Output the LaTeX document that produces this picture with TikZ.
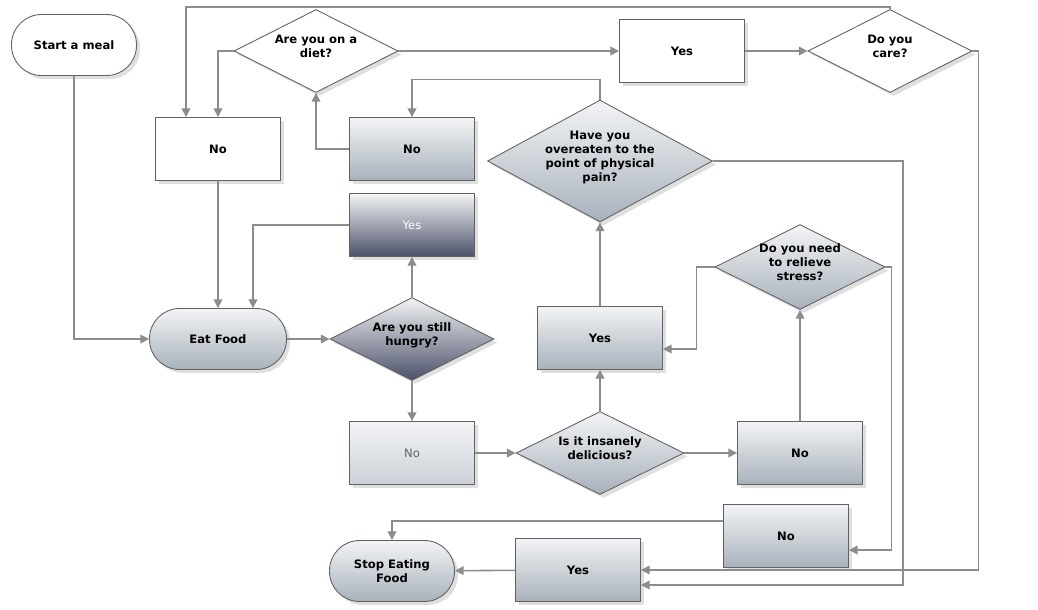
\documentclass[tikz,border=0pt]{standalone}
\usepackage{fontspec}
\setmainfont{DejaVu Sans}
\usetikzlibrary{shapes.geometric,arrows.meta,shadows}
\definecolor{ln}{HTML}{8C8C8C}
\definecolor{gtop}{HTML}{F3F4F6}
\definecolor{gbot}{HTML}{A8B1BB}
\definecolor{dbot}{HTML}{4B5169}
\newcommand{\dtxt}[1]{\smash{\makebox[0pt]{\begin{tabular}{@{}c@{}}#1\end{tabular}}}}
\begin{document}
\begin{tikzpicture}[x=0.02cm,y=-0.02cm,
  base/.style={draw=ln!70!black,line width=0.5pt,font=\fontsize{6.6}{8}\selectfont\bfseries,align=center,inner sep=1pt,
     drop shadow={shadow xshift=2pt,shadow yshift=-2pt,fill=black!25}},
  box/.style={base,rectangle,minimum width=2.5cm,minimum height=1.26cm},
  term/.style={base,rectangle,rounded corners=0.6cm,minimum width=2.5cm,minimum height=1.22cm},
  dia/.style={base,diamond,minimum width=3.28cm,minimum height=1.66cm,inner sep=0pt},
  wht/.style={fill=white},
  grd/.style={top color=gtop,bottom color=gbot},
  drk/.style={top color=gtop,bottom color=dbot},
  lgt/.style={top color=gtop,bottom color=gbot!60!white,font=\fontsize{6.6}{8}\selectfont,text=black!60},
  ar/.style={draw=ln,line width=0.9pt,-{Triangle[length=5pt,width=5pt]}}]
\useasboundingbox (0,0) rectangle (1038,609);
\node[term,wht] (start) at (74,45) {Start a meal};
\node[dia,wht] (diet) at (316,51) {\dtxt{Are you on a\\diet?}};
\node[box,wht] (yest) at (682,51) {Yes};
\node[dia,wht] (care) at (890,51) {\dtxt{Do you\\care?}};
\node[box,wht] (nol) at (218,149) {No};
\node[box,grd] (nog) at (412,149) {No};
\node[dia,grd,minimum width=4.5cm,minimum height=2.44cm] (over) at (600,161) {\dtxt{Have you\\overeaten to the\\point of physical\\pain?}};
\node[box,drk,text=white,font=\fontsize{6.6}{8}\selectfont] (yesd) at (412,225) {Yes};
\node[dia,grd,minimum width=3.4cm,minimum height=1.7cm] (stress) at (800,267) {\dtxt{Do you need\\to relieve\\stress?}};
\node[term,grd,minimum width=2.74cm] (eat) at (218,339) {Eat Food};
\node[dia,drk] (hung) at (412,339) {\dtxt{Are you still\\hungry?}};
\node[box,grd] (yesm) at (600,338) {Yes};
\node[box,lgt] (nob) at (412,453) {No};
\node[dia,grd,minimum width=3.36cm] (deli) at (600,453) {\dtxt{Is it insanely\\delicious?}};
\node[box,grd] (nor) at (800,453) {No};
\node[box,grd] (nolr) at (786,536) {No};
\node[term,grd] (stop) at (392,571) {Stop Eating\\Food};
\node[box,grd] (yesb) at (578,570) {Yes};
% connectors
\draw[ar] (start.south) |- (eat.west);
\draw[ar] (eat) -- (hung);
\draw[ar] (hung) -- (yesd);
\draw[ar] (yesd.west) -| ([xshift=0.7cm]eat.north);
\draw[ar] (hung) -- (nob);
\draw[ar] (nob) -- (deli);
\draw[ar] (deli) -- (yesm);
\draw[ar] (deli) -- (nor);
\draw[ar] (nor) -- (stress);
\draw[ar] (stress.west) -- ++(-18,0) |- ([yshift=-0.22cm]yesm.east);
\draw[ar] (stress.east) -- ++(6,0) |- ([yshift=-0.28cm]nolr.east);
\draw[ar] ([yshift=0.3cm]nolr.west) -| (stop.north);
\draw[ar] (yesm) -- (over);
\draw[ar] (over.east) -- ++(190,0) |- ([yshift=-0.3cm]yesb.east);
\draw[ar] (care.east) -- ++(6,0) |- (yesb.east);
\draw[ar] (yesb) -- (stop);
\draw[ar] (over.north) -- ++(0,-20) -| (nog.north);
\draw[ar] (nog.west) -| (diet.south);
\draw[ar] (diet.west) -| (nol.north);
\draw[ar] (diet) -- (yest);
\draw[ar] (yest) -- (care);
\draw[ar] (care.north) -- ++(0,-2) -| ([xshift=-0.64cm]nol.north);
\draw[ar] (nol) -- (eat);
\end{tikzpicture}
\end{document}
